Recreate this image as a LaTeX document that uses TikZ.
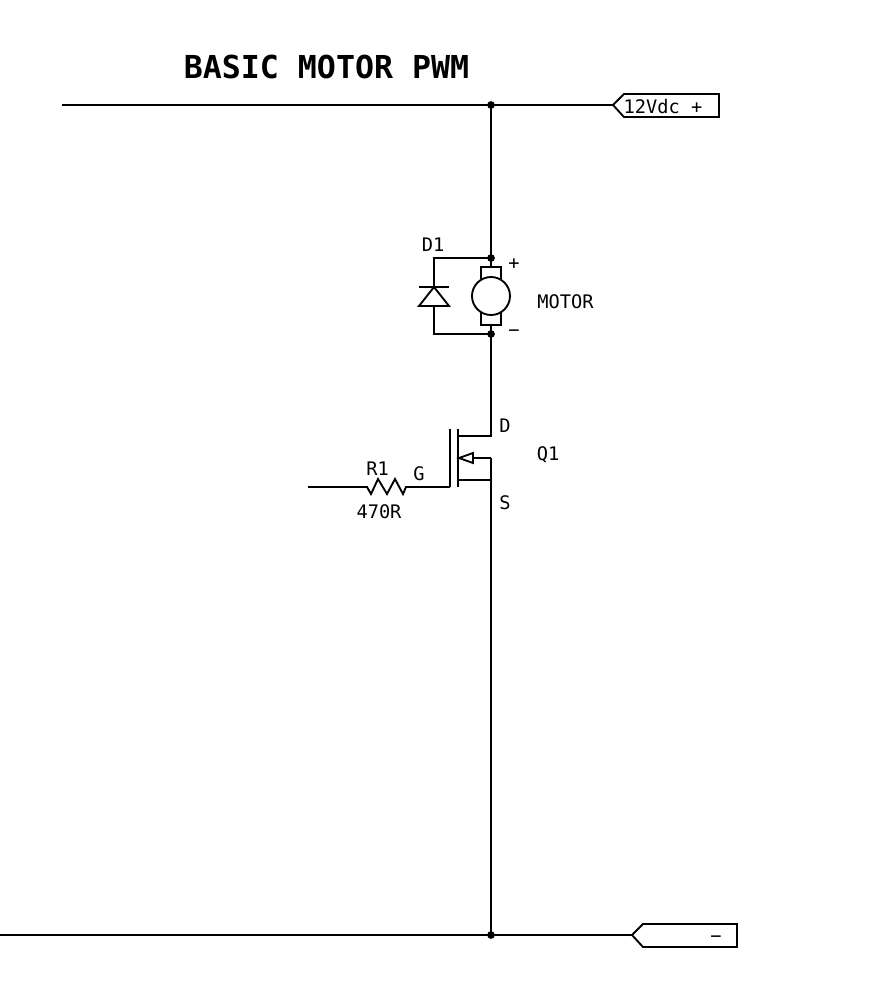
\documentclass[tikz,border=0pt]{standalone}
\usepackage{fontspec}
\setmainfont{DejaVu Sans Mono}
\begin{document}
\begin{tikzpicture}[x=0.75pt,y=-0.75pt,
  wire/.style={line width=1.4pt,line join=miter,line cap=butt},
  dotn/.style={circle,fill=black,draw=none,minimum size=5.8pt,inner sep=0pt},
  lab/.style={inner sep=0pt,font=\fontsize{14}{14}\selectfont},
  ttl/.style={inner sep=0pt,font=\fontsize{23.7}{24}\selectfont\bfseries}]
\useasboundingbox (0,0) rectangle (874,1000);
% key points
\coordinate (railTL) at (62,105);
\coordinate (railBL) at (0,935);
\node[dotn] (jTop) at (491,105) {};
\node[dotn] (jBot) at (491,935) {};
\node[dotn] (jMp) at (491,258) {};
\node[dotn] (jMm) at (491,334) {};
\coordinate (tagT) at (613,105);
\coordinate (tagB) at (632,935);
% title
\node[ttl] (title) at (326.5,67) {BASIC MOTOR PWM};
% rails
\draw[wire] (railTL) -- (jTop.center) -- (tagT);
\draw[wire] (railBL) -- (jBot.center) -- (tagB);
% tags
\draw[wire] (tagT) -- (624,94) -- (719,94) -- (719,117) -- (624,117) -- cycle;
\node[lab] (tagTt) at (663,107) {12Vdc +};
\draw[wire] (tagB) -- (643,924) -- (737,924) -- (737,947) -- (643,947) -- cycle;
\node[lab] (tagBt) at (716,939) {−};
% motor
\node[circle,draw,line width=1.4pt,minimum size=28.5pt,inner sep=0pt] (motor) at (491,296) {};
\draw[wire] (jTop.center) -- (jMp.center) -- (491,267);
\draw[wire] (481,279) -- (481,267) -- (501,267) -- (501,279);
\draw[wire] (481,313) -- (481,325) -- (501,325) -- (501,313);
\draw[wire] (491,325) -- (jMm.center);
\node[lab] (plus) at (514,264) {+};
\node[lab] (minus) at (514,333) {−};
\node[lab] (motorl) at (565.5,302) {MOTOR};
% diode
\draw[wire] (jMp.center) -- (434,258) -- (434,287);
\draw[wire] (419,287) -- (449,287);
\draw[wire] (434,287) -- (449,306) -- (419,306) -- cycle;
\draw[wire] (434,306) -- (434,334) -- (jMm.center);
\node[lab] (d1) at (433,245) {D1};
% mosfet
\draw[wire] (jMm.center) -- (491,436) -- (458,436);
\draw[wire] (458,429) -- (458,487);
\draw[wire] (450,429) -- (450,487);
\draw[wire] (458,480) -- (491,480);
\draw[wire] (491,458) -- (473,458);
\draw[wire] (459,458) -- (473,453) -- (473,463) -- cycle;
\draw[wire] (491,457.5) -- (jBot.center);
\node[lab] (dl) at (505,426) {D};
\node[lab] (sl) at (505,503) {S};
\node[lab] (q1) at (548,455) {Q1};
% gate and resistor
\coordinate (gin) at (308,487);
\draw[wire] (gin) -- (367,487) -- (371,494) -- (378,479) -- (387,494) -- (395,479) -- (403,494) -- (406,487) -- (450,487);
\node[lab] (r1) at (377.5,469) {R1};
\node[lab] (gl) at (419,474) {G};
\node[lab] (rv) at (379,512) {470R};
\end{tikzpicture}
\end{document}
